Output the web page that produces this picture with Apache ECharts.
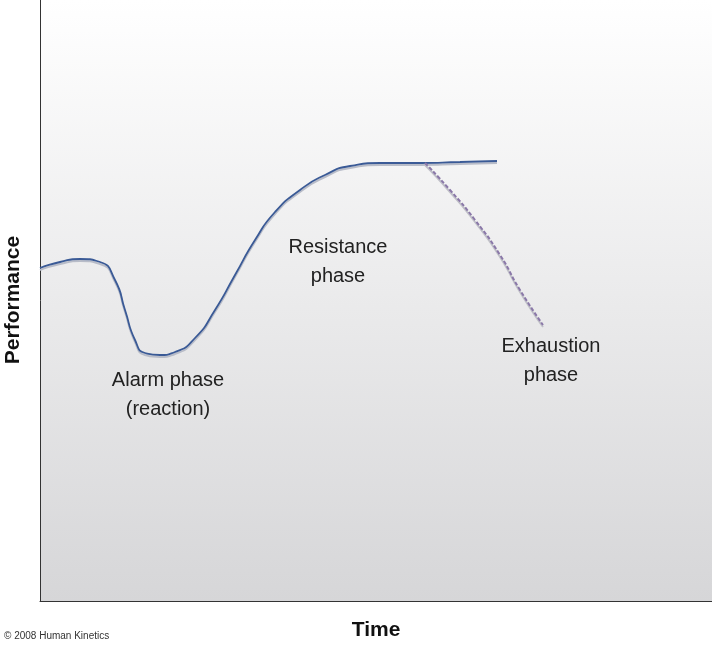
<!DOCTYPE html>
<html>
<head>
<meta charset="utf-8">
<script src="https://cdn.jsdelivr.net/npm/echarts@6/dist/echarts.min.js"></script>
<style>html,body{margin:0;padding:0;background:#fff}#chart{width:712px;height:649px}</style>
</head>
<body>
<div id="chart"></div>
<script>
// x = time, y = performance (arbitrary units)
var mainCurve = [[0,333],[20,339],[40,342],[60,339],[75,321],[85,291],[95,261],[105,248],[120,246],[135,249],[155,263],[175,291],[195,326],[215,361],[235,389],[260,411],[285,426],[310,435],[340,438],[380,438],[420,439],[457,440]];
var exhaustion = [[385,438],[410,411],[435,381],[460,346],[480,311],[503,276]];
var phaseLabels = [
    {text: 'Alarm phase\n(reaction)', x: 168, y: 395},
    {text: 'Resistance\nphase', x: 338, y: 262},
    {text: 'Exhaustion\nphase', x: 551, y: 361}
];

var chart = echarts.init(document.getElementById('chart'));
var shadow = function (d) {return d.map(p => [p[0], p[1] - 2]);};
var labelFont = '20px "Liberation Sans", Arial';
var titleFont = 'bold 21px "Liberation Sans", Arial';
chart.setOption({
    animation: false,
    grid: {left: 40, top: 0, right: 0, bottom: 48, show: true, borderWidth: 0,
        backgroundColor: new echarts.graphic.LinearGradient(0, 0, 0, 1, [{offset: 0, color: '#ffffff'}, {offset: 1, color: '#d6d6d8'}])},
    xAxis: {type: 'value', min: 0, max: 672, axisLine: {lineStyle: {color: '#333', width: 1}}, axisTick: {show: false}, axisLabel: {show: false}, splitLine: {show: false}},
    yAxis: {type: 'value', min: 0, max: 601, axisLine: {show: true, lineStyle: {color: '#333', width: 1}}, axisTick: {show: false}, axisLabel: {show: false}, splitLine: {show: false}},
    series: [
        {type: 'line', data: shadow(mainCurve), smooth: 0.6, symbol: 'none', lineStyle: {color: '#b8bcc8', width: 2}},
        {type: 'line', data: mainCurve, smooth: 0.6, symbol: 'none', lineStyle: {color: '#3a5a96', width: 1.8}},
        {type: 'line', data: shadow(exhaustion), smooth: 0.6, symbol: 'none', lineStyle: {color: '#c0c0c8', width: 2}},
        {type: 'line', data: exhaustion, smooth: 0.6, symbol: 'none', lineStyle: {color: '#8a78a8', width: 2, type: [4, 2]}}
    ],
    graphic: phaseLabels.map(l => ({type: 'text', x: l.x, y: l.y,
        style: {text: l.text, font: labelFont, fill: '#222', align: 'center', verticalAlign: 'middle', lineHeight: 29}})).concat([
        {type: 'text', x: 376, y: 630, style: {text: 'Time', font: titleFont, fill: '#111', align: 'center', verticalAlign: 'middle'}},
        {type: 'text', x: 13, y: 300, rotation: Math.PI / 2, style: {text: 'Performance', font: titleFont, fill: '#111', align: 'center', verticalAlign: 'middle'}},
        {type: 'text', x: 4, y: 636, style: {text: '© 2008 Human Kinetics', font: '10px "Liberation Sans", Arial', fill: '#333', verticalAlign: 'middle'}}
    ])
});
</script>
</body>
</html>
